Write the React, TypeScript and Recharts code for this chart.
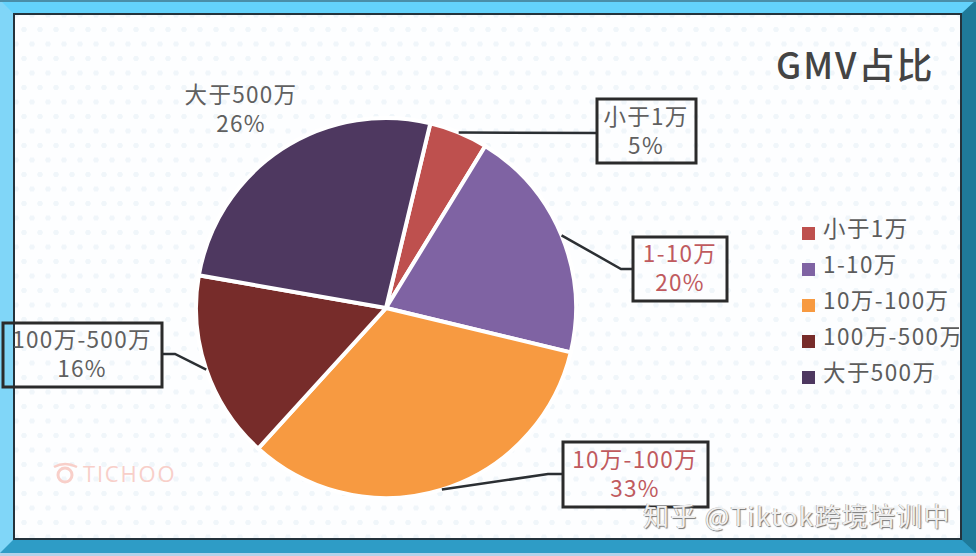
import React from "react";
import { PieChart, Pie, Cell, Legend } from "recharts";

const categories = ["小于1万", "1-10万", "10万-100万", "100万-500万", "大于500万"];
const shares = [5, 20, 33, 16, 26];
const sliceColors = ["#BE504E", "#7F63A3", "#F79A41", "#772C2A", "#4E3860"];
const labelColors = ["#606060", "#C05A5E", "#C05A5E", "#606060", "#606060"];

const rows = categories.map((name, i) => ({ name, value: shares[i] }));

const FONT = '"Noto Sans CJK SC", "Noto Sans", sans-serif';

// Annotation layout: callout frame [x, y, w, h], leader elbow and end points
const boxes: (number[] | null)[] = [
  [597, 99, 99, 64],
  [633, 237, 94, 64],
  [563, 442, 145, 65],
  [3, 323, 159, 64],
  null,
];
const leaders: (number[][] | null)[] = [
  [[597, 133]],
  [[621, 269], [633, 269]],
  [[548, 474], [563, 474]],
  [[175, 354], [162, 354]],
  null,
];
const labelCentres = [
  [646, 131],
  [680, 268],
  [635, 474],
  [82, 354],
  [241, 109],
];

const RAD = Math.PI / 180;

function renderLabel(p: any) {
  const i = p.index;
  const box = boxes[i];
  const way = leaders[i];
  const [lx, ly] = labelCentres[i];
  const sx = p.cx + p.outerRadius * Math.cos(-p.midAngle * RAD);
  const sy = p.cy + p.outerRadius * Math.sin(-p.midAngle * RAD);
  return (
    <g key={i}>
      {way && (
        <polyline
          points={[[sx, sy], ...way].map((q) => q.join(",")).join(" ")}
          fill="none"
          stroke="#2b2f33"
          strokeWidth={2.5}
        />
      )}
      {box && (
        <rect
          x={box[0]}
          y={box[1]}
          width={box[2]}
          height={box[3]}
          fill="none"
          stroke="#2b2b2b"
          strokeWidth={3}
        />
      )}
      <text
        x={lx}
        y={ly - 6}
        textAnchor="middle"
        fontFamily={FONT}
        fontSize={22.5}
        letterSpacing={1.3}
        fill={labelColors[i]}
      >
        <tspan x={lx} dy={0}>{categories[i]}</tspan>
        <tspan x={lx} dy={29}>{shares[i]}%</tspan>
      </text>
    </g>
  );
}

export default function App() {
  return (
    <div style={{ position: "absolute", left: 0, top: 0, width: 976, height: 556, overflow: "hidden", background: "#b5d2ea" }}>
      <div
        style={{
          position: "absolute",
          left: 0,
          top: 0,
          width: 976,
          height: 553,
          boxSizing: "border-box",
          borderStyle: "solid",
          borderWidth: "13px 14px 13px 13px",
          borderTopColor: "#63D2FB",
          borderLeftColor: "#80D6F8",
          borderBottomColor: "#2E9CC6",
          borderRightColor: "#1F7A99",
        }}
      >
        <div
          style={{
            width: "100%",
            height: "100%",
            boxSizing: "border-box",
            border: "2px solid #24333c",
            backgroundColor: "#fdfeff",
            backgroundImage:
              "radial-gradient(circle, #f0f6fa 2.4px, transparent 3px), radial-gradient(circle, #f0f6fa 2.4px, transparent 3px)",
            backgroundSize: "16px 29px",
            backgroundPosition: "1px 0px, 9px 14.5px",
          }}
        />
      </div>
      <div style={{ position: "absolute", left: 0, top: 0, width: 976, height: 2, background: "#4a8ea8" }} />

      <div style={{ position: "absolute", left: 776, top: 38, fontFamily: FONT, fontSize: 36, fontWeight: 500, letterSpacing: 2, color: "#444", lineHeight: "50px", whiteSpace: "nowrap" }}>
        GMV占比
      </div>

      <svg style={{ position: "absolute", left: 52, top: 462 }} width="28" height="24" viewBox="0 0 28 24">
        <path d="M2 5 Q13 -1 25 5" fill="none" stroke="#F8CFC9" strokeWidth="2.5" />
        <circle cx="13" cy="13" r="7" fill="none" stroke="#F8CFC9" strokeWidth="3" />
      </svg>
      <div style={{ position: "absolute", left: 83, top: 460, fontFamily: '"Open Sans", sans-serif', fontSize: 22, letterSpacing: 1.8, lineHeight: "27px", color: "#F8CFC9" }}>
        TICHOO
      </div>

      <div style={{ position: "absolute", left: 0, top: 0 }}>
        <PieChart width={976} height={556} margin={{ top: 0, right: 0, bottom: 0, left: 0 }}>
          <Pie
            data={rows}
            dataKey="value"
            nameKey="name"
            cx={386}
            cy={308}
            innerRadius={0}
            outerRadius={190}
            startAngle={76.5}
            endAngle={-283.5}
            stroke="#ffffff"
            strokeWidth={4}
            label={renderLabel}
            labelLine={false}
            isAnimationActive={false}
          >
            {rows.map((r, i) => (
              <Cell key={r.name} fill={sliceColors[i]} />
            ))}
          </Pie>
          <Legend
            layout="vertical"
            align="right"
            verticalAlign="top"
            iconType="square"
            iconSize={13}
            itemSorter={null}
            wrapperStyle={{ left: 802, top: 209, width: 174, right: "auto", clipPath: "inset(0 17px 0 0)" }}
            formatter={(v: string) => (
              <span style={{ color: "#5c5c5c", fontFamily: FONT, fontSize: 22.5, letterSpacing: 1.4, lineHeight: "36px", marginLeft: 4, whiteSpace: "nowrap" }}>{v}</span>
            )}
          />
        </PieChart>
      </div>

      <div
        style={{
          position: "absolute",
          left: 643,
          top: 496,
          fontFamily: FONT,
          fontSize: 26,
          letterSpacing: 1.3,
          lineHeight: "38px",
          whiteSpace: "nowrap",
          color: "rgba(255,255,255,0.9)",
          textShadow: "1px 1px 1px #777, -0.5px 0 0.5px #999",
        }}
      >
        知乎 @Tiktok跨境培训中
      </div>
    </div>
  );
}
